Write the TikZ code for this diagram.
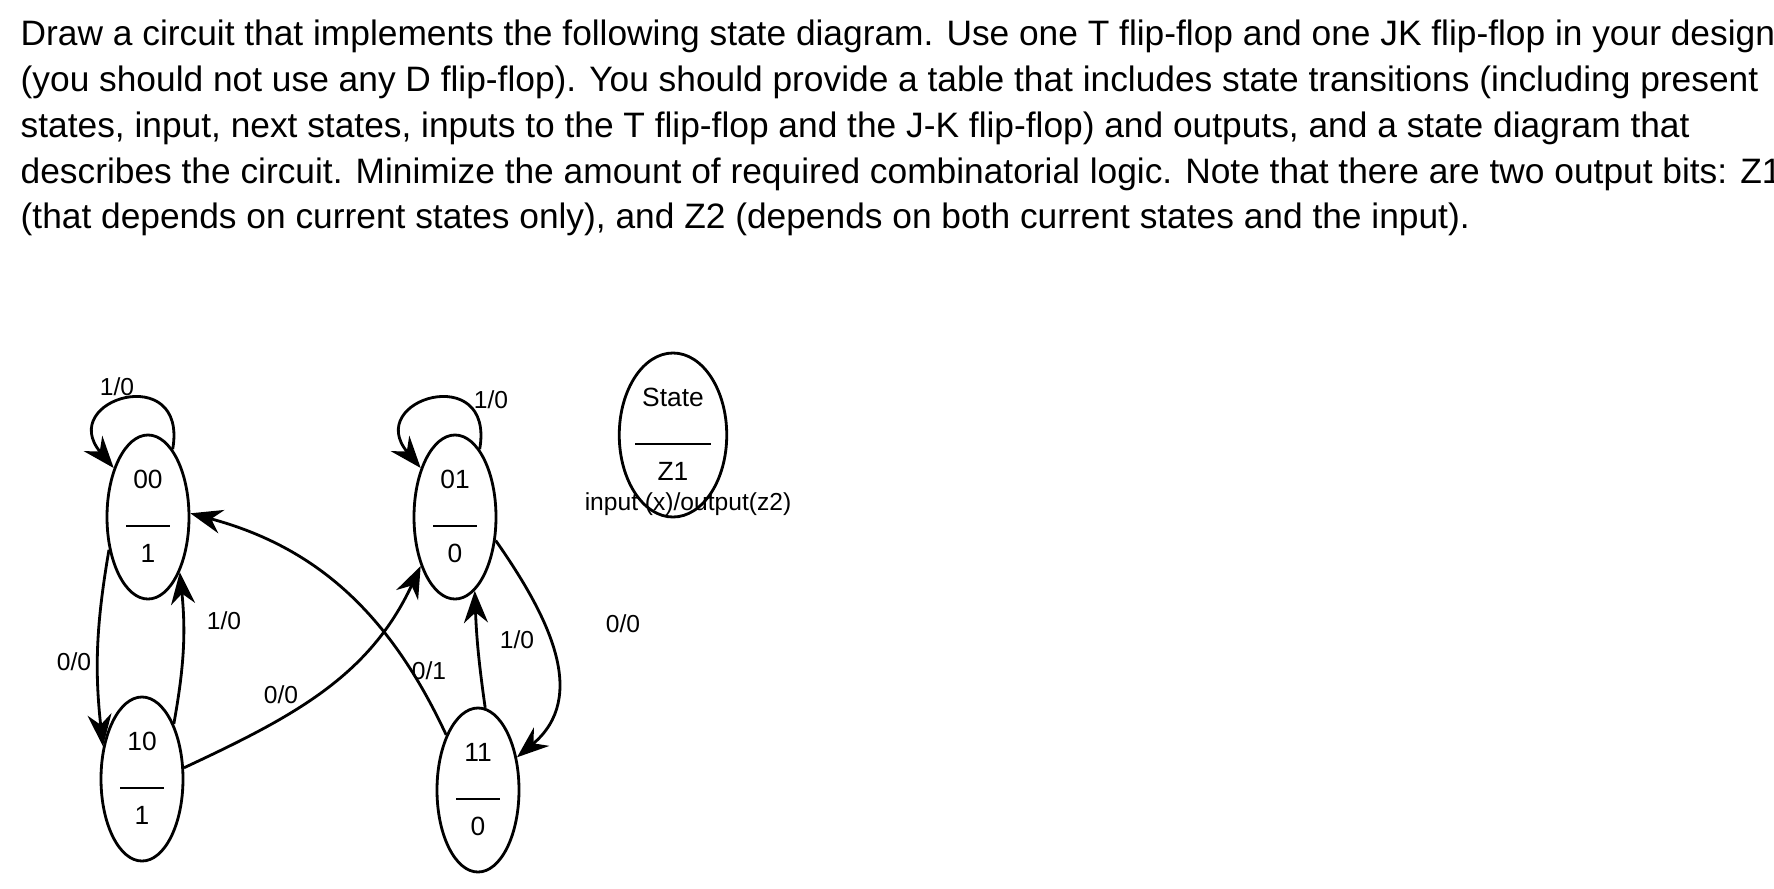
\documentclass[tikz,border=0pt]{standalone}
\usepackage{fontspec}
\setmainfont{Liberation Sans}
\usetikzlibrary{arrows.meta,shapes.geometric}
\begin{document}
\begin{tikzpicture}[x=0.1mm,y=-0.1mm,
  txt/.style={anchor=base west,inner sep=0,font=\fontsize{10.05pt}{12pt}\selectfont},
  st/.style={draw,ellipse,minimum width=8.2mm,minimum height=8.2mm,inner sep=0,line width=0.8pt},
  lab/.style={font=\fontsize{7pt}{8pt}\selectfont,inner sep=1pt},
  arr/.style={line width=0.8pt,-{Stealth[length=3.2mm,width=2.4mm]}}]
\useasboundingbox (0,0) rectangle (1774,888);
\node[txt] (l1) at (20,45) {Draw a circuit that implements the following state diagram. Use one T flip-flop and one JK flip-flop in your design};
\node[txt] (l2) at (20,91) {(you should not use any D flip-flop). You should provide a table that includes state transitions (including present};
\node[txt] (l3) at (20,137) {states, input, next states, inputs to the T flip-flop and the J-K flip-flop) and outputs, and a state diagram that};
\node[txt] (l4) at (20,183) {describes the circuit. Minimize the amount of required combinatorial logic. Note that there are two output bits: Z1};
\node[txt] (l5) at (20,228) {(that depends on current states only), and Z2 (depends on both current states and the input).};
\newcommand{\fr}[3]{\begin{tabular}{@{}c@{}}\fontsize{7.5pt}{8pt}\selectfont#1\\[-1pt]\rule{#3}{0.5pt}\\[-2pt]\fontsize{7.5pt}{8pt}\selectfont#2\end{tabular}}
\node[st] (s00) at (148,517) {\fr{00}{1}{4.4mm}};
\node[st] (s10) at (142,779) {\fr{10}{1}{4.4mm}};
\node[st] (s01) at (455,517) {\fr{01}{0}{4.4mm}};
\node[st] (s11) at (478,790) {\fr{11}{0}{4.4mm}};
\node[st,minimum width=10.3mm,minimum height=9.3mm] (leg) at (673,435) {\fr{State}{Z1}{7.6mm}};
\node[lab] (leglab) at (688,504) {input (x)/output(z2)};
\draw[arr] (s00.70) to[out=80,in=130,distance=9mm] (s00.125);
\draw[arr] (s01.70) to[out=80,in=130,distance=9mm] (s01.125);
\draw[arr] (s00.220) to[bend right=8] (s10.140);
\draw[arr] (s10.60) to[bend right=8] (s00.300);
\draw[arr] (s10.15) to[out=25,in=-115] (s01.235);
\draw[arr] (s11.120) to[out=115,in=-15] (s00.5);
\draw[arr] (s11.85) to[bend left=3] (s01.285);
\draw[arr] (s01.330) to[out=-55,in=40,looseness=1.1] (s11.40);
\node[lab] (a1) at (117,387) {1/0};
\node[lab] (a2) at (491,400) {1/0};
\node[lab] (a3) at (224,621) {1/0};
\node[lab] (a4) at (74,662) {0/0};
\node[lab] (a5) at (281,695) {0/0};
\node[lab] (a6) at (429,671) {0/1};
\node[lab] (a7) at (517,640) {1/0};
\node[lab] (a8) at (623,624) {0/0};
\end{tikzpicture}
\end{document}
